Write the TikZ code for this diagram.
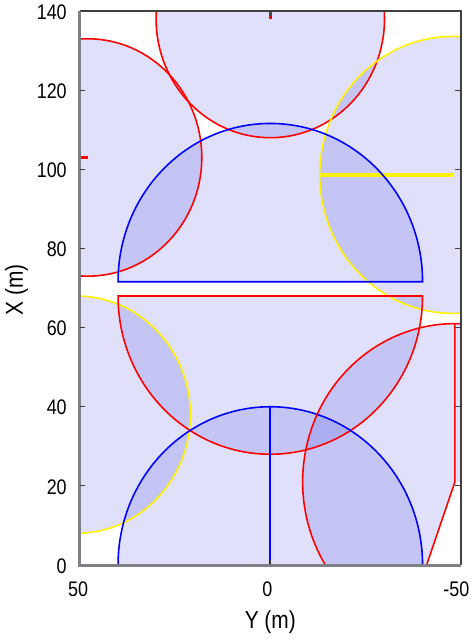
\documentclass[tikz,border=0pt]{standalone}
\usepackage{fontspec}
\setmainfont{Liberation Sans}[FakeStretch=0.85]
\definecolor{covfill}{RGB}{0,0,210}
\definecolor{axisgray}{RGB}{128,128,136}
\definecolor{axisdark}{RGB}{64,64,64}
\begin{document}
\begin{tikzpicture}[x=0.02cm, y=0.02cm,
    cov/.style={fill=covfill, fill opacity=0.12},
    redline/.style={draw=red, line width=0.9pt},
    blueline/.style={draw=blue, line width=0.9pt},
    yellowline/.style={draw=yellow, line width=0.9pt},
    heading/.style={line width=2pt},
    ticklabel/.style={font=\fontsize{12}{14}\selectfont, inner sep=0pt},
    axislabel/.style={font=\fontsize{14}{16}\selectfont, inner sep=0pt}]
    \useasboundingbox (0,0) rectangle (474,639);
    \begin{scope}[shift={(1.6cm,1.48cm)}, x=0.07614cm, y=0.07914cm]
        \begin{scope}
            \clip (0,0) rectangle (100,140);
            % coverage areas
            \fill[cov] (2,103) circle[radius=30];
            \fill[cov] (50,138) circle[radius=30];
            \fill[cov] (98,98.6) circle[radius=35];
            \fill[cov] (-1,38) circle[radius=30];
            \fill[cov] (50,0) circle[radius=40];
            \fill[cov] (90,71.6) arc[start angle=0, end angle=180, radius=40] -- cycle;
            \fill[cov] (10,68) arc[start angle=180, end angle=360, radius=40] -- cycle;
            \fill[cov] (98.5,21) -- ++(40,0) arc[start angle=0, end angle=250.5, radius=40] -- cycle;

            % sensor outlines and headings
            \draw[redline] (2,103) circle[radius=30];
            \draw[redline, heading] (2.2,103) -- (-28,103);
            \draw[redline] (50,138) circle[radius=30];
            \draw[redline, heading] (50,138) -- (50,168);
            \draw[yellowline] (98,98.6) circle[radius=35];
            \draw[yellowline, heading] (98,98.6) -- (63,98.6);
            \draw[yellowline] (-1,38) circle[radius=30];
            \draw[blueline] (90,71.6) arc[start angle=0, end angle=180, radius=40] -- cycle;
            \draw[redline] (10,68) arc[start angle=180, end angle=360, radius=40] -- cycle;
            \draw[blueline] (50,0) circle[radius=40];
            \draw[blueline, line width=1.2pt] (50,0) -- (50,40);
            \draw[redline] (98.5,21) ++(80:40) arc[start angle=80, end angle=250.5, radius=40]
                -- (98.5,21) -- (98.5,61);
        \end{scope}

        % axes
        \draw[axisdark, line width=1.2pt] (0,140) -- (100,140) -- (100,0);
        \draw[axisgray, line width=1.7pt] (0,140) -- (0,0) -- (100,0);
        \foreach \v in {20,40,...,120} {
            \draw[axisdark, line width=0.6pt] (0,\v) -- (1.4,\v);
            \draw[axisdark, line width=0.6pt] (100,\v) -- (98.6,\v);
        }
        \draw[axisdark, line width=0.6pt] (50,0) -- (50,1.3);
        \draw[axisdark, line width=0.6pt] (50,140) -- (50,138.7);
        \foreach \v in {0,20,...,140}
            \node[ticklabel, anchor=east] (xt\v) at (-3.4,\v-0.25) {\v};
        \node[ticklabel] (ytleft) at (-0.5,-6.2) {50};
        \node[ticklabel] (ytmid) at (49.25,-6.2) {0};
        \node[ticklabel] (ytright) at (98.9,-6.2) {-50};
        \node[axislabel] (ylab) at (50,-14.5) {Y (m)};
        \node[axislabel, rotate=90] (xlab) at (-16.7,69.6) {X (m)};
    \end{scope}
\end{tikzpicture}
\end{document}
